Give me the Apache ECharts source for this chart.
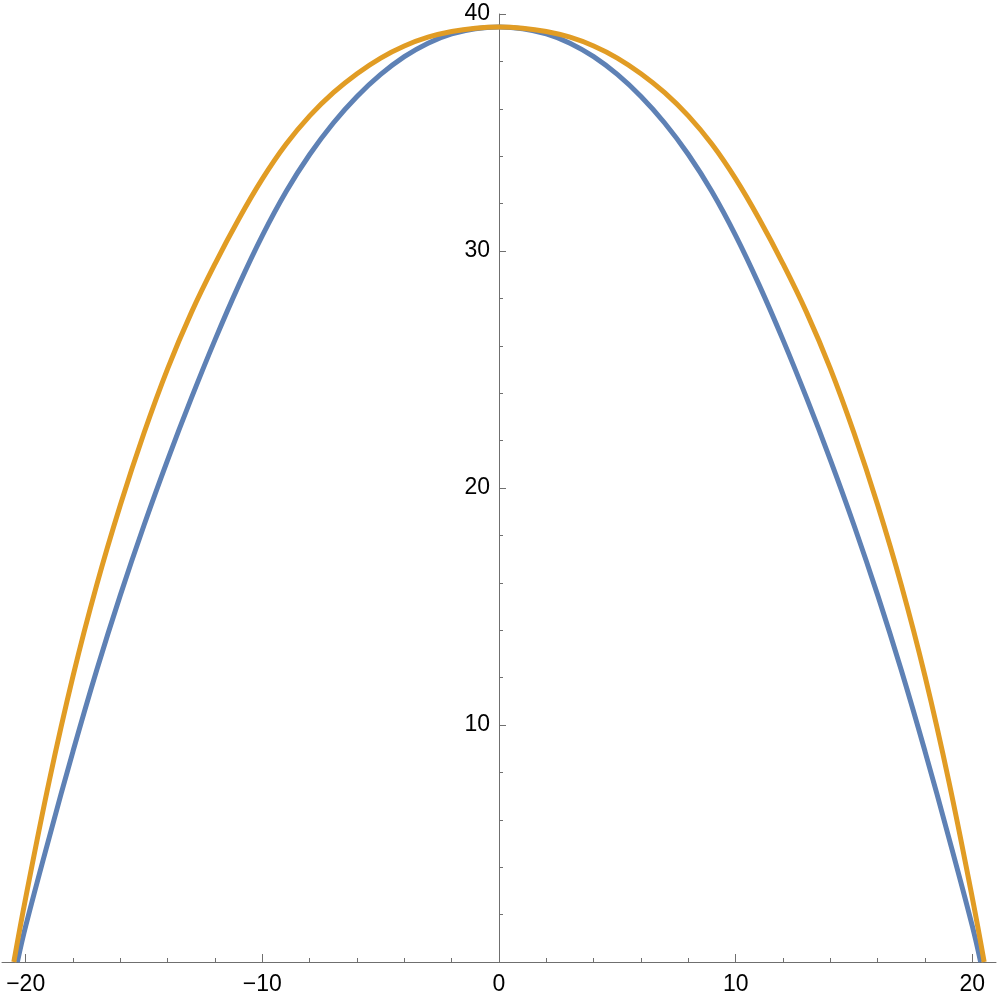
<!DOCTYPE html>
<html>
<head>
<meta charset="utf-8">
<title>chart</title>
<script src="https://cdn.jsdelivr.net/npm/echarts@6/dist/echarts.min.js"></script>
<style>
  html, body { margin: 0; padding: 0; background: #fff; }
  .box { width: 1000px; height: 1002px; }
</style>
</head>
<body>
<div class="box"></div>
<script>
// curve points (x, y)
var blueX = [-20.35, -20, -19, -18, -17, -16, -15, -14, -13, -12, -11, -10, -9, -8, -7, -6, -5, -4, -3, -2, -1, 0,
             1, 2, 3, 4, 5, 6, 7, 8, 9, 10, 11, 12, 13, 14, 15, 16, 17, 18, 19, 20, 20.35];
var blueY = [0, 1.51, 5.27, 8.89, 12.31, 15.48, 18.43, 21.19, 23.79, 26.25, 28.55, 30.65, 32.50, 34.07, 35.40, 36.52, 37.45, 38.20, 38.77, 39.16, 39.38, 39.45,
             39.38, 39.16, 38.77, 38.20, 37.45, 36.52, 35.40, 34.07, 32.50, 30.65, 28.55, 26.25, 23.79, 21.19, 18.43, 15.48, 12.31, 8.89, 5.27, 1.51, 0];

var orangeX = [-20.5, -20, -19, -18, -17, -16, -15, -14, -13, -12, -11, -10, -9, -8, -7, -6, -5, -4, -3, -2, -1, 0,
               1, 2, 3, 4, 5, 6, 7, 8, 9, 10, 11, 12, 13, 14, 15, 16, 17, 18, 19, 20, 20.5];
var orangeY = [0, 2.70, 7.66, 12.06, 15.90, 19.28, 22.32, 25.04, 27.40, 29.46, 31.34, 33.04, 34.50, 35.70, 36.68, 37.48, 38.14, 38.65, 39.02, 39.26, 39.40, 39.45,
               39.40, 39.26, 39.02, 38.65, 38.14, 37.48, 36.68, 35.70, 34.50, 33.04, 31.34, 29.46, 27.40, 25.04, 22.32, 19.28, 15.90, 12.06, 7.66, 2.70, 0];

// tick labels
var xMajor = [-20, -10, 0, 10, 20];
var xMinor = [-18, -16, -14, -12, -8, -6, -4, -2, 2, 4, 6, 8, 12, 14, 16, 18];

function pairs(xs, ys) {
    var out = [];
    for (var i = 0; i < xs.length; i++) {
        out.push([xs[i], ys[i]]);
    }
    return out;
}

var axisGray = '#6f6f6f';
var font = '"Liberation Sans", Arial, Helvetica, sans-serif';

// grid: x from -21 to 21 over 994px starting at 2px, so x=0 sits 497px in
var gridLeft = 2, gridWidth = 994, xMin = -21, xMax = 21;
var yAxisShift = gridWidth * (0 - xMin) / (xMax - xMin);

var myChart = echarts.init(document.querySelector('.box'));
var option = {
    animation: false,
    backgroundColor: '#ffffff',
    grid: {
        left: gridLeft,
        width: gridWidth,
        top: 14,
        bottom: 40,
        containLabel: false,
        outerBoundsMode: 'none'
    },
    xAxis: [
        {
            type: 'value',
            min: xMin,
            max: xMax,
            position: 'bottom',
            axisLine: { onZero: true, lineStyle: { color: axisGray, width: 1 } },
            axisTick: { inside: true, length: 8, customValues: xMajor, lineStyle: { color: axisGray } },
            axisLabel: {
                customValues: xMajor,
                margin: 11,
                color: '#000',
                fontSize: 23,
                fontFamily: font,
                formatter: function (v) {
                    return v < 0 ? '\u2212' + Math.abs(v) : String(v);
                }
            },
            splitLine: { show: false }
        },
        {
            //只画小刻度
            type: 'value',
            min: xMin,
            max: xMax,
            position: 'bottom',
            axisLine: { show: false },
            axisTick: { inside: true, length: 4, customValues: xMinor, lineStyle: { color: axisGray } },
            axisLabel: { show: false },
            splitLine: { show: false }
        }
    ],
    yAxis: {
        type: 'value',
        min: 0,
        max: 40,
        interval: 10,
        position: 'left',
        offset: -yAxisShift,
        axisLine: { show: true, onZero: false, lineStyle: { color: axisGray, width: 1 } },
        axisTick: { show: true, inside: true, length: 7, lineStyle: { color: axisGray } },
        minorTick: { show: true, splitNumber: 5, length: 4, lineStyle: { color: axisGray } },
        axisLabel: {
            margin: 9,
            color: '#000',
            fontSize: 23,
            fontFamily: font,
            formatter: function (v) {
                return v === 0 ? '' : String(v);
            }
        },
        splitLine: { show: false }
    },
    series: [
        {
            name: 'blue',
            type: 'line',
            smooth: 0.4,
            showSymbol: false,
            clip: false,
            lineStyle: { color: '#5e81b5', width: 5 },
            data: pairs(blueX, blueY)
        },
        {
            name: 'orange',
            type: 'line',
            smooth: 0.4,
            showSymbol: false,
            clip: false,
            lineStyle: { color: '#e19c24', width: 5 },
            data: pairs(orangeX, orangeY)
        }
    ]
};
myChart.setOption(option);
</script>
</body>
</html>
